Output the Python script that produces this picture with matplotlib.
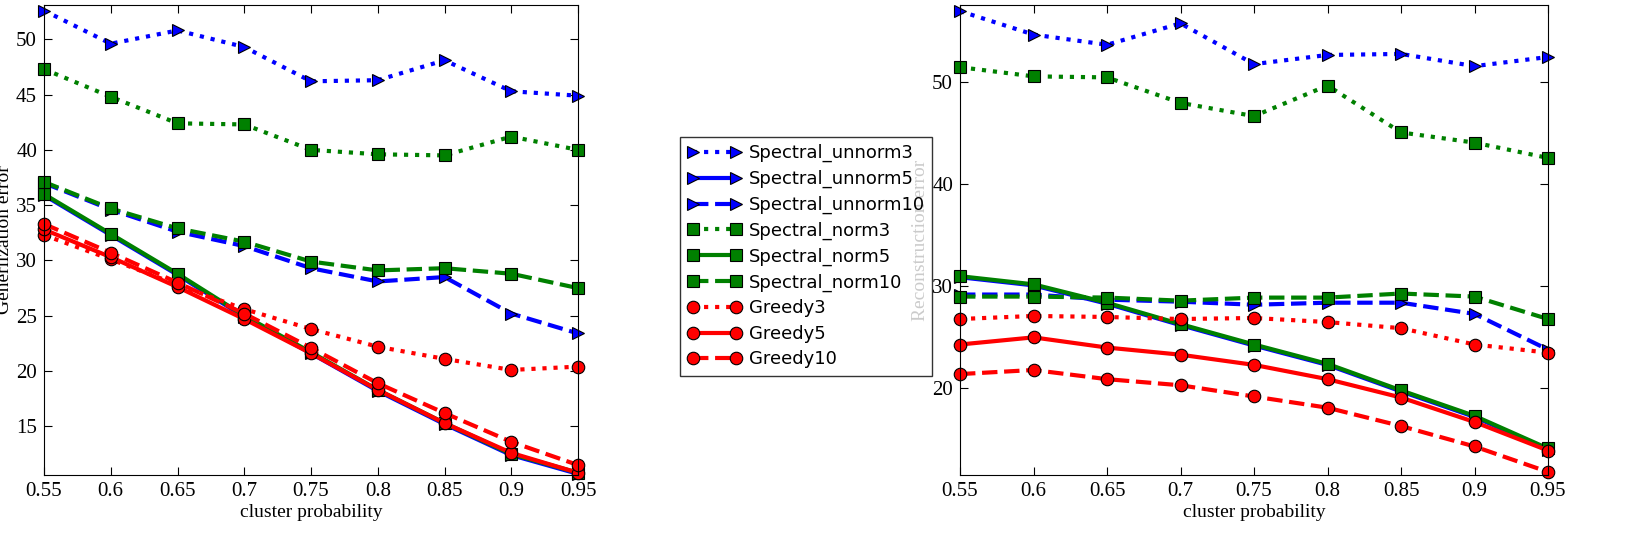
import matplotlib
matplotlib.use("Agg")
import matplotlib.pyplot as plt

x = [0.55, 0.6, 0.65, 0.7, 0.75, 0.8, 0.85, 0.9, 0.95]
xticks = ["0.55", "0.6", "0.65", "0.7", "0.75", "0.8", "0.85", "0.9", "0.95"]

names = ["Spectral_unnorm3", "Spectral_unnorm5", "Spectral_unnorm10",
         "Spectral_norm3", "Spectral_norm5", "Spectral_norm10",
         "Greedy3", "Greedy5", "Greedy10"]

gen_unnorm3 = [52.6, 49.6, 50.8, 49.3, 46.2, 46.3, 48.1, 45.3, 44.9]
gen_unnorm5 = [35.9, 32.3, 28.7, 24.9, 21.6, 18.2, 15.2, 12.4, 10.7]
gen_unnorm10 = [37.0, 34.6, 32.6, 31.3, 29.3, 28.1, 28.5, 25.2, 23.4]
gen_norm3 = [47.3, 44.8, 42.4, 42.3, 40.0, 39.6, 39.5, 41.2, 40.0]
gen_norm5 = [36.0, 32.4, 28.8, 25.0, 21.7, 18.3, 15.3, 12.5, 10.8]
gen_norm10 = [37.1, 34.7, 32.9, 31.7, 29.9, 29.1, 29.3, 28.8, 27.5]
gen_greedy3 = [32.3, 30.1, 27.8, 25.6, 23.8, 22.2, 21.1, 20.1, 20.4]
gen_greedy5 = [32.8, 30.3, 27.6, 24.7, 21.6, 18.3, 15.3, 12.6, 10.8]
gen_greedy10 = [33.3, 30.7, 28.0, 25.2, 22.1, 18.9, 16.2, 13.6, 11.5]

rec_unnorm3 = [57.0, 54.7, 53.7, 55.8, 51.8, 52.7, 52.8, 51.6, 52.5]
rec_unnorm5 = [30.9, 30.1, 28.3, 26.2, 24.2, 22.3, 19.7, 17.2, 14.0]
rec_unnorm10 = [29.2, 29.2, 28.7, 28.5, 28.2, 28.4, 28.4, 27.3, 23.8]
rec_norm3 = [51.5, 50.6, 50.5, 48.0, 46.7, 49.7, 45.1, 44.1, 42.6]
rec_norm5 = [31.0, 30.2, 28.4, 26.3, 24.3, 22.4, 19.8, 17.3, 14.1]
rec_norm10 = [29.0, 29.0, 28.9, 28.6, 28.9, 28.9, 29.3, 29.0, 26.8]
rec_greedy3 = [26.8, 27.1, 27.0, 26.8, 26.9, 26.5, 25.9, 24.3, 23.5]
rec_greedy5 = [24.3, 25.0, 24.0, 23.3, 22.3, 20.9, 19.1, 16.7, 13.9]
rec_greedy10 = [21.4, 21.8, 20.9, 20.3, 19.2, 18.1, 16.3, 14.3, 11.8]

gen = [gen_unnorm3, gen_unnorm5, gen_unnorm10, gen_norm3, gen_norm5, gen_norm10,
       gen_greedy3, gen_greedy5, gen_greedy10]
rec = [rec_unnorm3, rec_unnorm5, rec_unnorm10, rec_norm3, rec_norm5, rec_norm10,
       rec_greedy3, rec_greedy5, rec_greedy10]

colors = ["#0000ff"] * 3 + ["#008000"] * 3 + ["#ff0000"] * 3
markers = [">"] * 3 + ["s"] * 3 + ["o"] * 3
styles = [":", "-", "--"] * 3
order = [1, 0, 2, 3, 4, 5, 6, 7, 8]

fig = plt.figure(figsize=(16.26, 5.36), dpi=100)
W, H = 1626, 536
ax1 = fig.add_axes([44 / W, 61 / H, 534 / W, 470 / H])
ax2 = fig.add_axes([960 / W, 61 / H, 588 / W, 470 / H])

serif = "Liberation Serif"
handles = [None] * 9
for ax, data, ylab, ylim, yt in [(ax1, gen, "Generlization error", (10.6, 53.1), [15, 20, 25, 30, 35, 40, 45, 50]),
                                 (ax2, rec, "Reconstruction error", (11.5, 57.6), [20, 30, 40, 50])]:
    for i in order:
        h, = ax.plot(x, data[i], color=colors[i], ls=styles[i], marker=markers[i],
                     lw=3, ms=9, mec="black", mew=0.8, label=names[i], clip_on=False)
        handles[i] = h
    ax.set_xlim(0.55, 0.95)
    ax.set_ylim(*ylim)
    ax.set_xticks(x)
    ax.set_xticklabels(xticks)
    ax.set_yticks(yt)
    for lab in ax.get_yticklabels() + ax.get_xticklabels():
        lab.set_fontfamily(serif)
        lab.set_fontsize(15)
    ax.set_xlabel("cluster probability", fontfamily=serif, fontsize=14, labelpad=2)
    ax.set_ylabel(ylab, fontfamily=serif, fontsize=14, labelpad=2)
    ax.tick_params(direction="in", top=True, right=True, length=6, pad=5)

leg = fig.legend(handles, names, loc="upper left",
                 bbox_to_anchor=(680 / W, 1 - 137 / H), fontsize=13,
                 handlelength=3, numpoints=2, fancybox=False, borderpad=0.4,
                 labelspacing=0.42, handletextpad=0.4, borderaxespad=0)
leg.get_frame().set_edgecolor("black")
leg.get_frame().set_linewidth(1)

fig.savefig("out.png", dpi=100)
